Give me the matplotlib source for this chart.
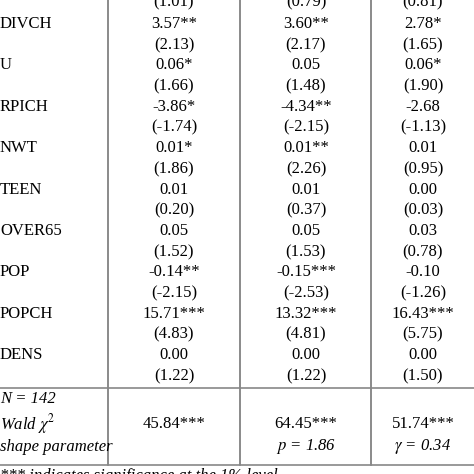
import matplotlib.pyplot as plt

plt.rcParams['font.family'] = ['Liberation Serif', 'DejaVu Serif']
plt.rcParams['mathtext.fontset'] = 'stix'

variables = ['DIVCH', 'U', 'RPICH', 'NWT', 'TEEN', 'OVER65', 'POP', 'POPCH', 'DENS']
col1 = [('3.57**', '(2.13)'), ('0.06*', '(1.66)'), ('-3.86*', '(-1.74)'), ('0.01*', '(1.86)'),
        ('0.01', '(0.20)'), ('0.05', '(1.52)'), ('-0.14**', '(-2.15)'), ('15.71***', '(4.83)'),
        ('0.00', '(1.22)')]
col2 = [('3.60**', '(2.17)'), ('0.05', '(1.48)'), ('-4.34**', '(-2.15)'), ('0.01**', '(2.26)'),
        ('0.01', '(0.37)'), ('0.05', '(1.53)'), ('-0.15***', '(-2.53)'), ('13.32***', '(4.81)'),
        ('0.00', '(1.22)')]
col3 = [('2.78*', '(1.65)'), ('0.06*', '(1.90)'), ('-2.68', '(-1.13)'), ('0.01', '(0.95)'),
        ('0.00', '(0.03)'), ('0.03', '(0.78)'), ('-0.10', '(-1.26)'), ('16.43***', '(5.75)'),
        ('0.00', '(1.50)')]
top_row = ['(1.01)', '(0.79)', '(0.81)']
wald = ['45.84***', '64.45***', '51.74***']
shape = ['', r'$p$ = 1.86', r'$\gamma$ = 0.34']

fig = plt.figure(figsize=(4.74, 4.74), dpi=100)
ax = fig.add_axes([0, 0, 1, 1])
ax.set_xlim(0, 474)
ax.set_ylim(474, 0)
ax.axis('off')

fs = 12
xs = [174, 306, 423]
for x in [108, 240, 371]:
    ax.plot([x, x], [0, 465], color='#777777', lw=1.2)
for y in [388, 465]:
    ax.plot([0, 474], [y, y], color='#888888', lw=1.2)

# top row is cut off in the reference as well
for x, t in zip(xs, top_row):
    ax.text(x, 2, t, ha='center', va='center', fontsize=fs)

pitch = 41.4
for i, name in enumerate(variables):
    y = 24 + i * pitch
    ax.text(0, y, name, ha='left', va='center', fontsize=fs)
    for x, col in zip(xs, [col1, col2, col3]):
        ax.text(x, y, col[i][0], ha='center', va='center', fontsize=fs)
        ax.text(x, y + 21, col[i][1], ha='center', va='center', fontsize=fs)

ax.text(0, 399, 'N = 142', ha='left', va='center', fontsize=fs, style='italic')
ax.text(0, 424, r'Wald $\chi^2$', ha='left', va='center', fontsize=fs, style='italic')
ax.text(0, 447, 'shape parameter', ha='left', va='center', fontsize=fs, style='italic')
for x, w, s in zip(xs, wald, shape):
    ax.text(x, 424, w, ha='center', va='center', fontsize=fs)
    ax.text(x, 447, s, ha='center', va='center', fontsize=fs, style='italic')
ax.text(0, 476, '*** indicates significance at the 1% level', ha='left', va='center',
        fontsize=fs, style='italic')

fig.savefig('out.png', dpi=100)
